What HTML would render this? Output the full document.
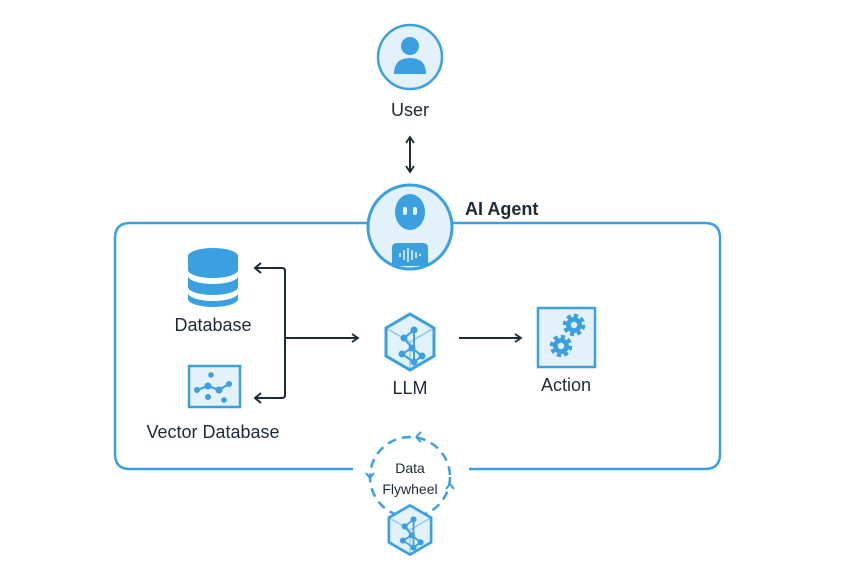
<!DOCTYPE html>
<html><head><meta charset="utf-8"><style>
html,body{margin:0;padding:0;background:#fff;}
svg{display:block;}
text{font-family:"Liberation Sans",sans-serif;fill:#1c2a3a;}
</style></head><body>
<svg width="845" height="569" viewBox="0 0 845 569" xmlns="http://www.w3.org/2000/svg">
<defs>
<marker id="ah" markerWidth="10" markerHeight="10" refX="8" refY="5" orient="auto-start-reverse" markerUnits="userSpaceOnUse">
<path d="M2,1 L8,5 L2,9" fill="none" stroke="#1c2a3a" stroke-width="1.8"/>
</marker>
<g id="hex">
<polygon points="0,-28 24,-14 24,14 0,28 -24,14 -24,-14" fill="#e3f1fb" stroke="#3aa0e0" stroke-width="3"/>
<path d="M-24,-14 L0,0 L24,-14 M0,0 L0,28" fill="none" stroke="#3aa0e0" stroke-width="1.5" opacity="0.5"/>
<path d="M4,-12 L-6,-4 L2,6 L-8,12 M2,6 L12,14 L4,20 L-8,12 M4,-12 L4,20" fill="none" stroke="#3aa0e0" stroke-width="2"/>
<circle cx="4" cy="-12" r="3.5" fill="#3aa0e0"/><circle cx="-6" cy="-4" r="3.5" fill="#3aa0e0"/>
<circle cx="2" cy="6" r="3.5" fill="#3aa0e0"/><circle cx="-8" cy="12" r="3.5" fill="#3aa0e0"/>
<circle cx="12" cy="14" r="3.5" fill="#3aa0e0"/><circle cx="4" cy="20" r="3.5" fill="#3aa0e0"/>
</g>
<g id="gear">
<circle r="9" fill="none" stroke="#3aa0e0" stroke-width="4.5" stroke-dasharray="4 3"/>
<circle r="8" fill="#3aa0e0"/><circle r="3.2" fill="#e3f1fb"/>
</g>
</defs>

<path d="M353,469 L130,469 Q115,469 115,454 L115,238 Q115,223 130,223 L705,223 Q720,223 720,238 L720,454 Q720,469 705,469 L469,469" fill="none" stroke="#3aa0e0" stroke-width="2.5"/>

<circle cx="410" cy="57" r="32" fill="#e3f1fb" stroke="#3aa0e0" stroke-width="2.5"/>
<circle cx="410" cy="46" r="9" fill="#3aa0e0"/>
<path d="M394,74 Q394,58 410,58 Q426,58 426,74 Z" fill="#3aa0e0"/>
<text x="410" y="116" font-size="18" text-anchor="middle">User</text>
<line x1="410" y1="137" x2="410" y2="172" stroke="#1c2a3a" stroke-width="2" marker-end="url(#ah)" marker-start="url(#ah)"/>

<circle cx="410" cy="227" r="42" fill="#e3f1fb" stroke="#3aa0e0" stroke-width="3"/>
<ellipse cx="410" cy="212" rx="15" ry="18" fill="#3aa0e0"/>
<rect x="403" y="207" width="4" height="8" rx="2" fill="#e3f1fb"/><rect x="413" y="207" width="4" height="8" rx="2" fill="#e3f1fb"/>
<path d="M392,266 L392,248 Q392,243 397,243 L423,243 Q428,243 428,248 L428,266 Z" fill="#3aa0e0"/>
<g stroke="#e3f1fb" stroke-width="1.6"><line x1="400" y1="253" x2="400" y2="257"/><line x1="404" y1="250" x2="404" y2="260"/><line x1="408" y1="248" x2="408" y2="262"/><line x1="412" y1="250" x2="412" y2="260"/><line x1="416" y1="252" x2="416" y2="258"/><line x1="420" y1="254" x2="420" y2="256"/></g>
<text x="465" y="215" font-size="18" font-weight="bold">AI Agent</text>

<g fill="#3aa0e0">
<path d="M188,256 A25,8 0 0 1 238,256 L238,270 A25,8 0 0 1 188,270 Z"/>
<path d="M188,276 A25,8 0 0 0 238,276 L238,287 A25,8 0 0 1 188,287 Z"/>
<path d="M188,293 A25,8 0 0 0 238,293 L238,299 A25,8 0 0 1 188,299 Z"/>
</g>
<text x="213" y="331" font-size="18" text-anchor="middle">Database</text>

<rect x="189" y="366" width="51" height="41" fill="#e3f1fb" stroke="#3aa0e0" stroke-width="2.5"/>
<path d="M197,390 L208,386 L219,390 L229,384" fill="none" stroke="#3aa0e0" stroke-width="2"/>
<g fill="#3aa0e0"><circle cx="197" cy="390" r="3"/><circle cx="208" cy="386" r="3.5"/><circle cx="219" cy="390" r="3.5"/><circle cx="229" cy="384" r="3"/><circle cx="211" cy="375" r="2.8"/><circle cx="208" cy="397" r="3"/><circle cx="224" cy="400" r="2.8"/></g>
<text x="213" y="438" font-size="18" text-anchor="middle">Vector Database</text>

<path d="M255,268 L282,268 Q285,268 285,271 L285,395 Q285,398 282,398 L255,398" fill="none" stroke="#1c2a3a" stroke-width="2"/>
<path d="M261,263 L255,268 L261,273 M261,393 L255,398 L261,403" fill="none" stroke="#1c2a3a" stroke-width="2"/>
<line x1="285" y1="338" x2="358" y2="338" stroke="#1c2a3a" stroke-width="2" marker-end="url(#ah)"/>

<use href="#hex" x="410" y="342"/>
<text x="410" y="394" font-size="18" text-anchor="middle">LLM</text>
<line x1="459" y1="338" x2="521" y2="338" stroke="#1c2a3a" stroke-width="2" marker-end="url(#ah)"/>

<rect x="538" y="308" width="57" height="59" fill="#e3f1fb" stroke="#3aa0e0" stroke-width="2.5"/>
<use href="#gear" x="574" y="325"/>
<use href="#gear" x="561" y="346"/>
<text x="566" y="391" font-size="18" text-anchor="middle">Action</text>

<circle cx="410" cy="477" r="40" fill="#fff" stroke="#3aa0e0" stroke-width="2.5" stroke-dasharray="9 6"/>
<path d="M416,437 L421,432 M416,437 L421,442" stroke="#3aa0e0" stroke-width="2" fill="none"/>
<path d="M450,484 L446,489 M450,484 L454,489" stroke="#3aa0e0" stroke-width="2" fill="none"/>
<path d="M370,478 L366,473 M370,478 L374,473" stroke="#3aa0e0" stroke-width="2" fill="none"/>
<text x="410" y="473" font-size="14" text-anchor="middle">Data</text>
<text x="410" y="494" font-size="14" text-anchor="middle">Flywheel</text>
<g transform="translate(410,530) scale(0.88)"><use href="#hex"/></g>
</svg>
</body></html>
